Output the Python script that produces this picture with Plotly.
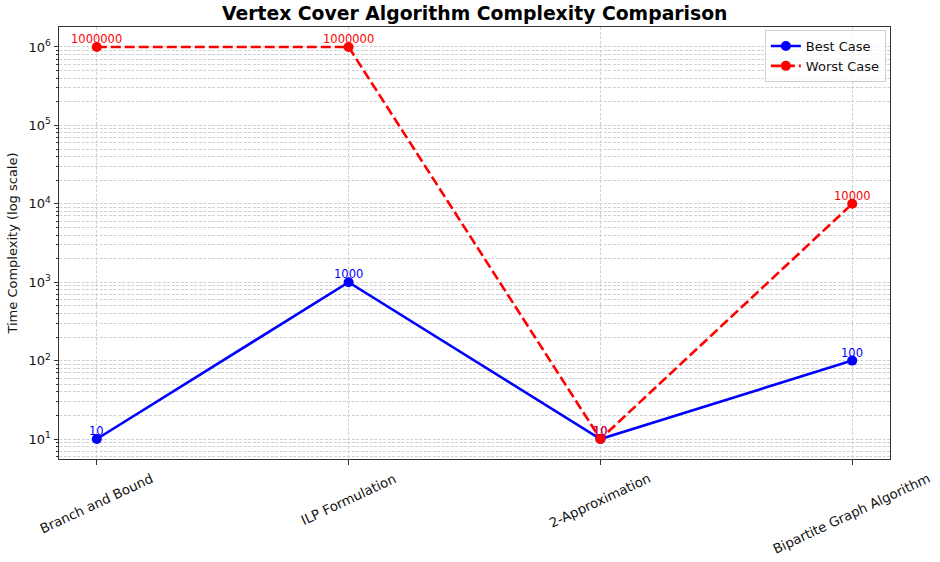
import math
import plotly.graph_objects as go

algorithms = ["Branch and Bound", "ILP Formulation", "2-Approximation", "Bipartite Graph Algorithm"]
best_case = [10, 1000, 10, 100]
worst_case = [1000000, 1000000, 10, 10000]
ytick_vals = [10, 100, 1000, 10000, 100000, 1000000]
ytick_text = ["10<sup>1</sup>", "10<sup>2</sup>", "10<sup>3</sup>", "10<sup>4</sup>", "10<sup>5</sup>", "10<sup>6</sup>"]

FONT = "DejaVu Sans"
fig = go.Figure()
fig.add_trace(go.Scatter(
    x=algorithms, y=best_case, name="Best Case",
    mode="lines+markers",
    line=dict(color="blue", width=2.6),
    marker=dict(color="blue", size=10),
))
fig.add_trace(go.Scatter(
    x=algorithms, y=worst_case, name="Worst Case",
    mode="lines+markers",
    line=dict(color="red", width=2.6, dash="10px,4px"),
    marker=dict(color="red", size=10),
))
for series, color in ((best_case, "blue"), (worst_case, "red")):
    for name, v in zip(algorithms, series):
        fig.add_annotation(x=name, y=math.log10(v), xref="x", yref="y",
                           text=str(v), showarrow=False, yanchor="bottom", yshift=-1,
                           font=dict(size=11.5, family=FONT, color=color))

grid = "#d2d2d2"
fig.update_layout(
    width=940, height=562,
    margin=dict(l=59, r=50, t=27, b=103),
    paper_bgcolor="white", plot_bgcolor="white",
    font=dict(family=FONT, size=13, color="#111"),
    title=dict(text="<b>Vertex Cover Algorithm Complexity Comparison</b>",
               x=0.505, xanchor="center", y=0.977, yanchor="middle",
               font=dict(size=18.8, color="black")),
    showlegend=True,
    legend=dict(x=0.995, y=0.993, xanchor="right", yanchor="top",
                bgcolor="rgba(255,255,255,0.8)", bordercolor="#d0d0d0", borderwidth=1,
                font=dict(size=13), itemwidth=30, tracegroupgap=0),
)
fig.update_xaxes(
    type="category", range=[-0.15, 3.15],
    showline=True, linecolor="#333", linewidth=1, mirror=True,
    ticks="outside", ticklen=4.5, tickcolor="#333",
    showticklabels=False,
    showgrid=True, gridcolor=grid, griddash="3px,1.5px", gridwidth=0.8,
    zeroline=False,
)
fig.update_yaxes(
    type="log", range=[0.745, 6.255],
    tickvals=ytick_vals, ticktext=ytick_text,
    showline=True, linecolor="#333", linewidth=1, mirror=True,
    ticks="outside", ticklen=4.5, tickcolor="#333",
    tickfont=dict(size=13),
    showgrid=True, gridcolor=grid, griddash="3px,1.5px", gridwidth=0.8,
    minor=dict(dtick="D1", ticks="outside", ticklen=2.5, tickcolor="#333",
               showgrid=True, gridcolor=grid, griddash="3px,1.5px", gridwidth=0.7),
    title=dict(text="Time Complexity (log scale)", font=dict(size=13), standoff=8),
    zeroline=False,
)
for name in algorithms:
    fig.add_annotation(x=name, y=0, xref="x", yref="paper", yanchor="top", xanchor="center",
                       text=name, showarrow=False, textangle=-25, yshift=-9,
                       font=dict(size=13.3, family=FONT, color="#111"))

fig.write_html("out.html")
